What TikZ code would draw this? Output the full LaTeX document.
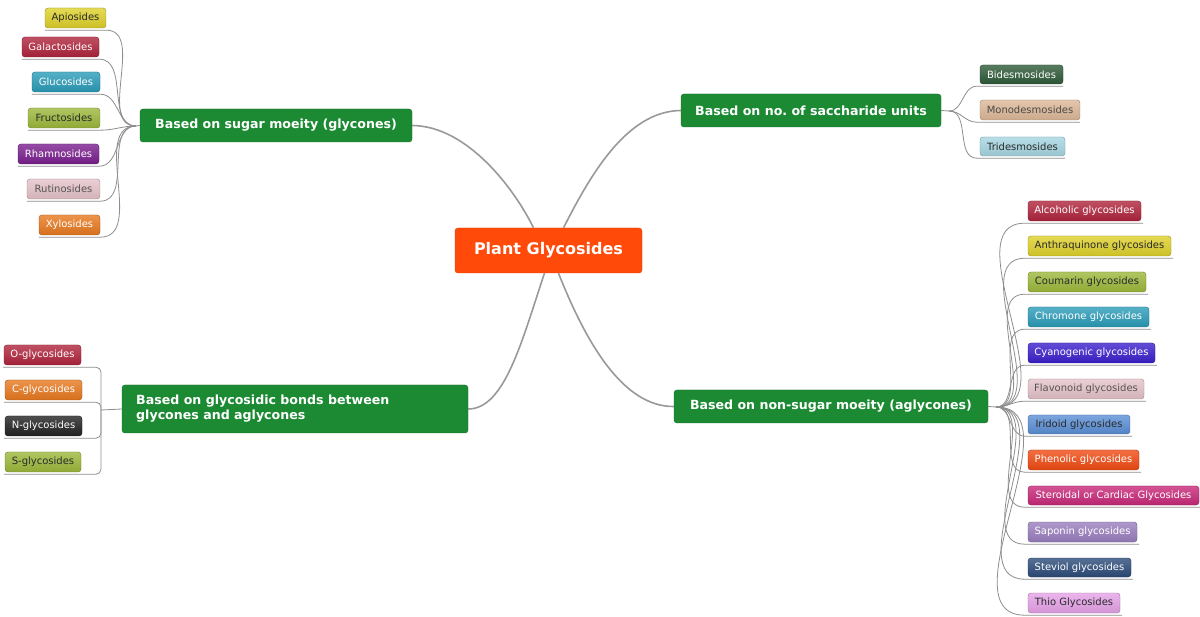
\documentclass[tikz,border=0pt]{standalone}
\usepackage{fontspec}
\setmainfont{DejaVu Sans}
\frenchspacing
\definecolor{cYellow}{HTML}{DED12A}
\definecolor{cCrimson}{HTML}{B0243C}
\definecolor{cTeal}{HTML}{2A9CB8}
\definecolor{cOlive}{HTML}{9CB83A}
\definecolor{cPurple}{HTML}{7A1F8E}
\definecolor{cPink}{HTML}{E6C2CA}
\definecolor{cOrange}{HTML}{E8791F}
\definecolor{cDkGreen}{HTML}{2E5A38}
\definecolor{cTan}{HTML}{DDB898}
\definecolor{cLtBlue}{HTML}{A6D6E2}
\definecolor{cBlack}{HTML}{222222}
\definecolor{cViolet}{HTML}{3A1FCC}
\definecolor{cCorn}{HTML}{5B8FD6}
\definecolor{cRedOr}{HTML}{F04A12}
\definecolor{cMagenta}{HTML}{C82879}
\definecolor{cLav}{HTML}{9A7EBE}
\definecolor{cNavy}{HTML}{2C4C7A}
\definecolor{cLilac}{HTML}{E6A2E8}
\definecolor{cGreen}{HTML}{1C8A33}
\definecolor{cCenter}{HTML}{FF4A0A}
\definecolor{cTwig}{HTML}{8E8E8E}
\definecolor{cDarkText}{HTML}{2A2A2A}
\tikzset{
  leafbox/.style={rounded corners=3pt, inner sep=0pt, font=\fontsize{10}{12}\selectfont},
  mainbox/.style={rounded corners=3pt, fill=cGreen, draw=cGreen!80!black, text=white, inner sep=0pt,
     font=\fontsize{12.6}{15}\selectfont\bfseries},
  twig/.style={draw=cTwig, line width=0.8pt},
  branch/.style={draw=cTwig!90!white, line width=1.6pt}
}
\newcommand\mkleaf[8]{\node[leafbox, top color=#6!80!white, bottom color=#6!92!black, draw=#6!70!black, text=#7,
  minimum width={(#4-#2)*1pt}, minimum height={(#5-#3)*1pt}] (#1) at ({(#2+#4)/2},{(#3+#5)/2}) {#8};}
\begin{document}
\begin{tikzpicture}[x=1pt,y=-1pt]
\useasboundingbox[fill=white] (0,0) rectangle (1200,617);
% main nodes
\node[rounded corners=3pt, fill=cCenter, draw=cCenter!85!black, text=white, inner sep=0pt,
  font=\fontsize{16}{19}\selectfont\bfseries, minimum width=187pt, minimum height=45pt] (C) at (548.5,250.5) {Plant Glycosides};
\node[mainbox, minimum width=272pt, minimum height=33pt] (Sug) at (276,125.5) {Based on sugar moeity (glycones)};
\node[mainbox, minimum width=260pt, minimum height=33pt] (Sac) at (811,110.5) {Based on no. of saccharide units};
\node[mainbox, minimum width=346pt, minimum height=48pt] (Gly) at (295,409) {};
\node[anchor=west, text=white, font=\fontsize{12.6}{15}\selectfont\bfseries, align=left, inner sep=0pt] (GlyT) at (136,409) {Based on glycosidic bonds between\\glycones and aglycones};
\node[mainbox, minimum width=314pt, minimum height=33pt] (Non) at (831,406.5) {Based on non-sugar moeity (aglycones)};
% hubs
\coordinate (hS) at (136,126);
\coordinate (hA) at (949,111);
\coordinate (hG) at (101,410);
\coordinate (hN) at (996,407);
% center branches
\draw[branch] (Sug.east) .. controls (468,126) and (515,190) .. ([xshift=-15pt]C.north);
\draw[branch] ([xshift=15pt]C.north) .. controls (588,180) and (625,111) .. (Sac.west);
\draw[branch] ([xshift=-4pt]C.south) .. controls (522,340) and (505,409) .. (Gly.east);
\draw[branch] ([xshift=10pt]C.south) .. controls (585,340) and (622,407) .. (Non.west);
% sugar leaves
\mkleaf{Api}{45}{8}{106}{28}{cYellow}{cDarkText}{Apiosides}
\mkleaf{Gal}{22}{37}{99}{57}{cCrimson}{white}{Galactosides}
\mkleaf{Glu}{32}{72}{100}{92}{cTeal}{white}{Glucosides}
\mkleaf{Fru}{28}{108}{100}{128}{cOlive}{cDarkText}{Fructosides}
\mkleaf{Rha}{18}{144}{99}{164}{cPurple}{white}{Rhamnosides}
\mkleaf{Rut}{27}{179}{100}{199}{cPink}{cDarkText!80!white}{Rutinosides}
\mkleaf{Xyl}{39}{215}{100}{235}{cOrange}{white}{Xylosides}
\foreach \n in {Api,Gal,Glu,Fru,Rha,Rut,Xyl}{
  \draw[twig] ([yshift=-2pt]\n.south west) -- ([yshift=-2pt]\n.south east) to[out=0,in=180] (hS);
}
\draw[twig] (hS) -- (Sug.west);
% saccharide leaves
\mkleaf{Bid}{980}{65}{1063}{84}{cDkGreen}{white}{Bidesmosides}
\mkleaf{Mon}{980}{100}{1080}{120}{cTan}{cDarkText!85!white}{Monodesmosides}
\mkleaf{Tri}{980}{137}{1065}{156}{cLtBlue}{cDarkText}{Tridesmosides}
\foreach \n in {Bid,Mon,Tri}{
  \draw[twig] (hA) to[out=0,in=180] ([yshift=-2pt,xshift=-3pt]\n.south west) -- ([yshift=-2pt]\n.south east);
}
\draw[twig] (Sac.east) -- (hA);
% glycosidic leaves
\mkleaf{Og}{4}{345}{81}{365}{cCrimson}{white}{O-glycosides}
\mkleaf{Cg}{5}{380}{82}{400}{cOrange}{white}{C-glycosides}
\mkleaf{Ng}{5}{416}{82}{436}{cBlack}{white}{N-glycosides}
\mkleaf{Sg}{5}{452}{81}{472}{cOlive}{cDarkText}{S-glycosides}
\foreach \n in {Og,Cg,Ng,Sg}{
  \draw[twig, rounded corners=5pt] ([yshift=-2pt,xshift=-1pt]\n.south west) -| (hG);
}
\draw[twig] (hG) -- (Gly.west);
% non-sugar leaves
\mkleaf{Alc}{1028}{201}{1141}{221}{cCrimson}{white}{Alcoholic glycosides}
\mkleaf{Ant}{1028}{236}{1171}{256}{cYellow}{cDarkText}{Anthraquinone glycosides}
\mkleaf{Cou}{1028}{272}{1146}{292}{cOlive}{cDarkText}{Coumarin glycosides}
\mkleaf{Chr}{1028}{307}{1149}{327}{cTeal}{white}{Chromone glycosides}
\mkleaf{Cya}{1028}{343}{1155}{363}{cViolet}{white}{Cyanogenic glycosides}
\mkleaf{Fla}{1028}{379}{1144}{399}{cPink}{cDarkText!80!white}{Flavonoid glycosides}
\mkleaf{Iri}{1028}{415}{1130}{434}{cCorn}{cDarkText}{Iridoid glycosides}
\mkleaf{Phe}{1028}{450}{1139}{470}{cRedOr}{white}{Phenolic glycosides}
\mkleaf{Ste}{1028}{486}{1199}{505}{cMagenta}{white}{Steroidal or Cardiac Glycosides}
\mkleaf{Sap}{1028}{522}{1137}{542}{cLav}{white}{Saponin glycosides}
\mkleaf{Stv}{1028}{558}{1131}{577}{cNavy}{white}{Steviol glycosides}
\mkleaf{Thi}{1028}{593}{1120}{613}{cLilac}{cDarkText}{Thio Glycosides}
\foreach \n in {Alc,Ant,Cou,Chr,Cya,Fla,Iri,Phe,Ste,Sap,Stv,Thi}{
  \draw[twig] (hN) to[out=0,in=180] ([yshift=-2pt,xshift=-3pt]\n.south west) -- ([yshift=-2pt,xshift=2pt]\n.south east);
}
\draw[twig] (Non.east) -- (hN);
\end{tikzpicture}
\end{document}
